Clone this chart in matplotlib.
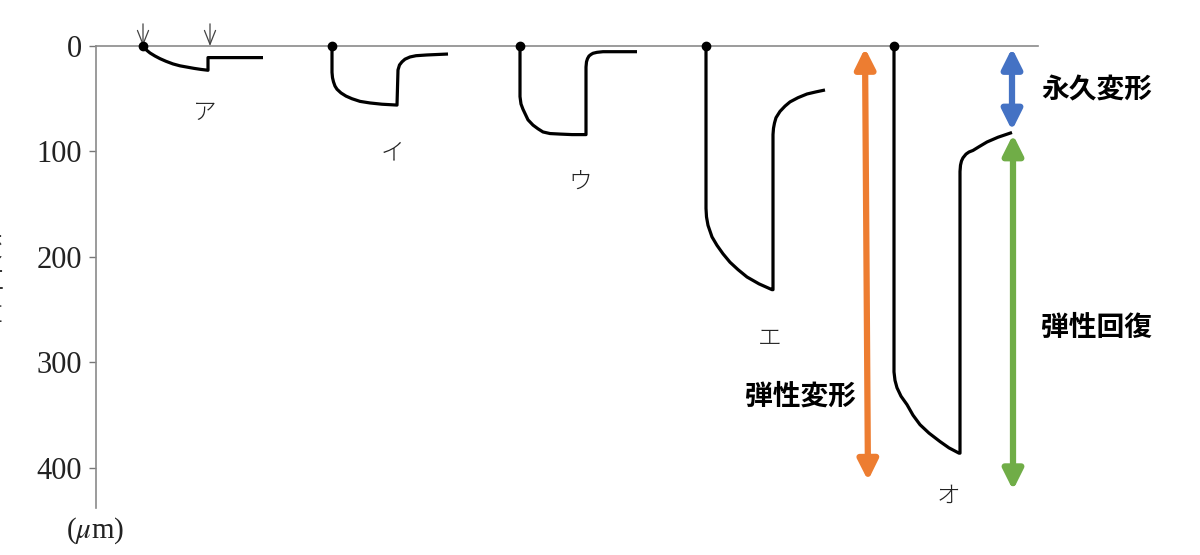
import matplotlib
matplotlib.use('Agg')
import matplotlib.pyplot as plt

plt.rcParams['mathtext.fontset'] = 'stix'

# くぼみの深さ (μm) と時間 (任意単位)
t_a = [47, 50, 54, 59, 64, 70, 77, 84, 91, 98, 105, 112, 112, 167]
d_a = [0, 3.5, 6.6, 9.5, 12, 14.5, 17, 18.8, 20, 21.2, 22.2, 23, 11, 11]

t_i = [236, 236, 236.5, 237.5, 239, 241, 245, 250, 256, 264, 274, 286, 301,
       302, 303.5, 306, 309, 314, 320, 331, 352]
d_i = [0, 25, 30, 34, 38, 41, 44.5, 47.5, 50, 52.5, 54, 55.2, 56,
       22.7, 18, 15, 12.5, 10.4, 9.2, 8.5, 7.6]

t_u = [424, 424, 425, 427, 429, 432, 437, 442, 447, 454, 464, 476, 490,
       490, 490.5, 491.5, 493, 495, 497, 501, 507, 520, 541]
d_u = [0, 48, 55, 60, 64, 70, 75, 78.5, 81.5, 83, 83.5, 84, 84,
       20, 15, 12, 9.5, 8, 6.9, 6, 5.4, 5.4, 5.4]

t_e = [610, 610, 610.5, 612, 616, 621, 627, 634, 642, 651, 663, 676,
       677, 677, 677.5, 678.5, 680, 682, 684, 689, 694, 702, 711, 720, 729]
d_e = [0, 154, 162, 170, 181, 189, 197, 205, 212, 219, 225.5, 231,
       231, 84, 78, 73, 68, 65, 62, 57, 53, 49, 45.5, 43.5, 41.7]

t_o = [798, 798, 799, 801, 805, 811, 817, 824, 833, 844, 853, 863,
       864, 864, 864.5, 865.5, 867, 870, 873, 877, 883, 891, 902, 916]
d_o = [0, 309, 317, 324, 332, 340, 350, 359, 367, 375, 381, 386,
       386, 119, 113, 109, 106, 102.5, 100.5, 99, 95.5, 91, 86.5, 82]

curves = [(t_a, d_a), (t_i, d_i), (t_u, d_u), (t_e, d_e), (t_o, d_o)]
names = ['ア', 'イ', 'ウ', 'エ', 'オ']
name_t = [109, 296, 484, 674, 852]
name_d = [63, 101, 129, 277, 427]

yticks = [0, 100, 200, 300, 400]

# 荷重をかけた時刻・除いた時刻 (ア)
mark_t = [47, 114]

cjk = ['Noto Sans CJK JP', 'DejaVu Sans']

fig = plt.figure(figsize=(12, 5.55), dpi=100)
ax = fig.add_axes([96/1200, 1 - 508/555, (1038-96)/1200, (508-46)/555])
ax.set_xlim(0, 942)
ax.set_ylim(438, 0)

for (t, d) in curves:
    ax.plot(t, d, color='black', lw=2.3, solid_capstyle='butt', solid_joinstyle='round',
            clip_on=False)
    ax.plot(t[0], d[0], 'o', color='black', ms=6, clip_on=False, zorder=5)

for n, x, y in zip(names, name_t, name_d):
    ax.text(x, y, n, ha='center', va='center', fontsize=17, color='#222222',
            family=cjk, weight='light')

for x in mark_t:
    ax.annotate('', xy=(x, 0), xytext=(x, -21), annotation_clip=False,
                arrowprops=dict(arrowstyle='->,head_length=1.0,head_width=0.4',
                                lw=0.9, color='#444444', shrinkA=0, shrinkB=0))

# 色つき両矢印
def darrow(x0, y0, x1, y1, c):
    ax.annotate('', xy=(x1, y1), xytext=(x0, y0), annotation_clip=False,
                arrowprops=dict(arrowstyle='<|-|>,head_length=1.2,head_width=0.6',
                                lw=4.5, color=c, shrinkA=0, shrinkB=0))

darrow(769, 2, 772, 412, '#ED7D31')
darrow(916, 2, 916, 80, '#4472C4')
darrow(917, 84, 917, 421, '#70AD47')

ax.text(1001, 42, '永久変形', ha='center', va='center', fontsize=20, weight='bold', family=cjk)
ax.text(1001, 267, '弾性回復', ha='center', va='center', fontsize=20, weight='bold', family=cjk)
ax.text(704, 332, '弾性変形', ha='center', va='center', fontsize=20, weight='bold', family=cjk)

ax.set_yticks(yticks)
ax.set_yticklabels([str(v) for v in yticks], family='Liberation Serif', fontsize=22, color='#222222')
ax.set_xticks([])
ax.tick_params(axis='y', length=5, width=1, color='#777777', pad=5)
for s in ['right', 'bottom']:
    ax.spines[s].set_visible(False)
for s in ['left', 'top']:
    ax.spines[s].set_color('#8a8a8a')
    ax.spines[s].set_linewidth(1.2)

fig.text(95/1200, 1 - 531/555, r'($\mu$m)', ha='center', va='center', fontsize=21,
         family='Liberation Serif', color='#222222')
# 左端で切れている軸名
fig.text(-11/1200, 1 - 280/555, '変\n位\n量', ha='center', va='center', fontsize=20,
         family=cjk, color='#333333', linespacing=1.1)

fig.savefig('out.png', dpi=100)
